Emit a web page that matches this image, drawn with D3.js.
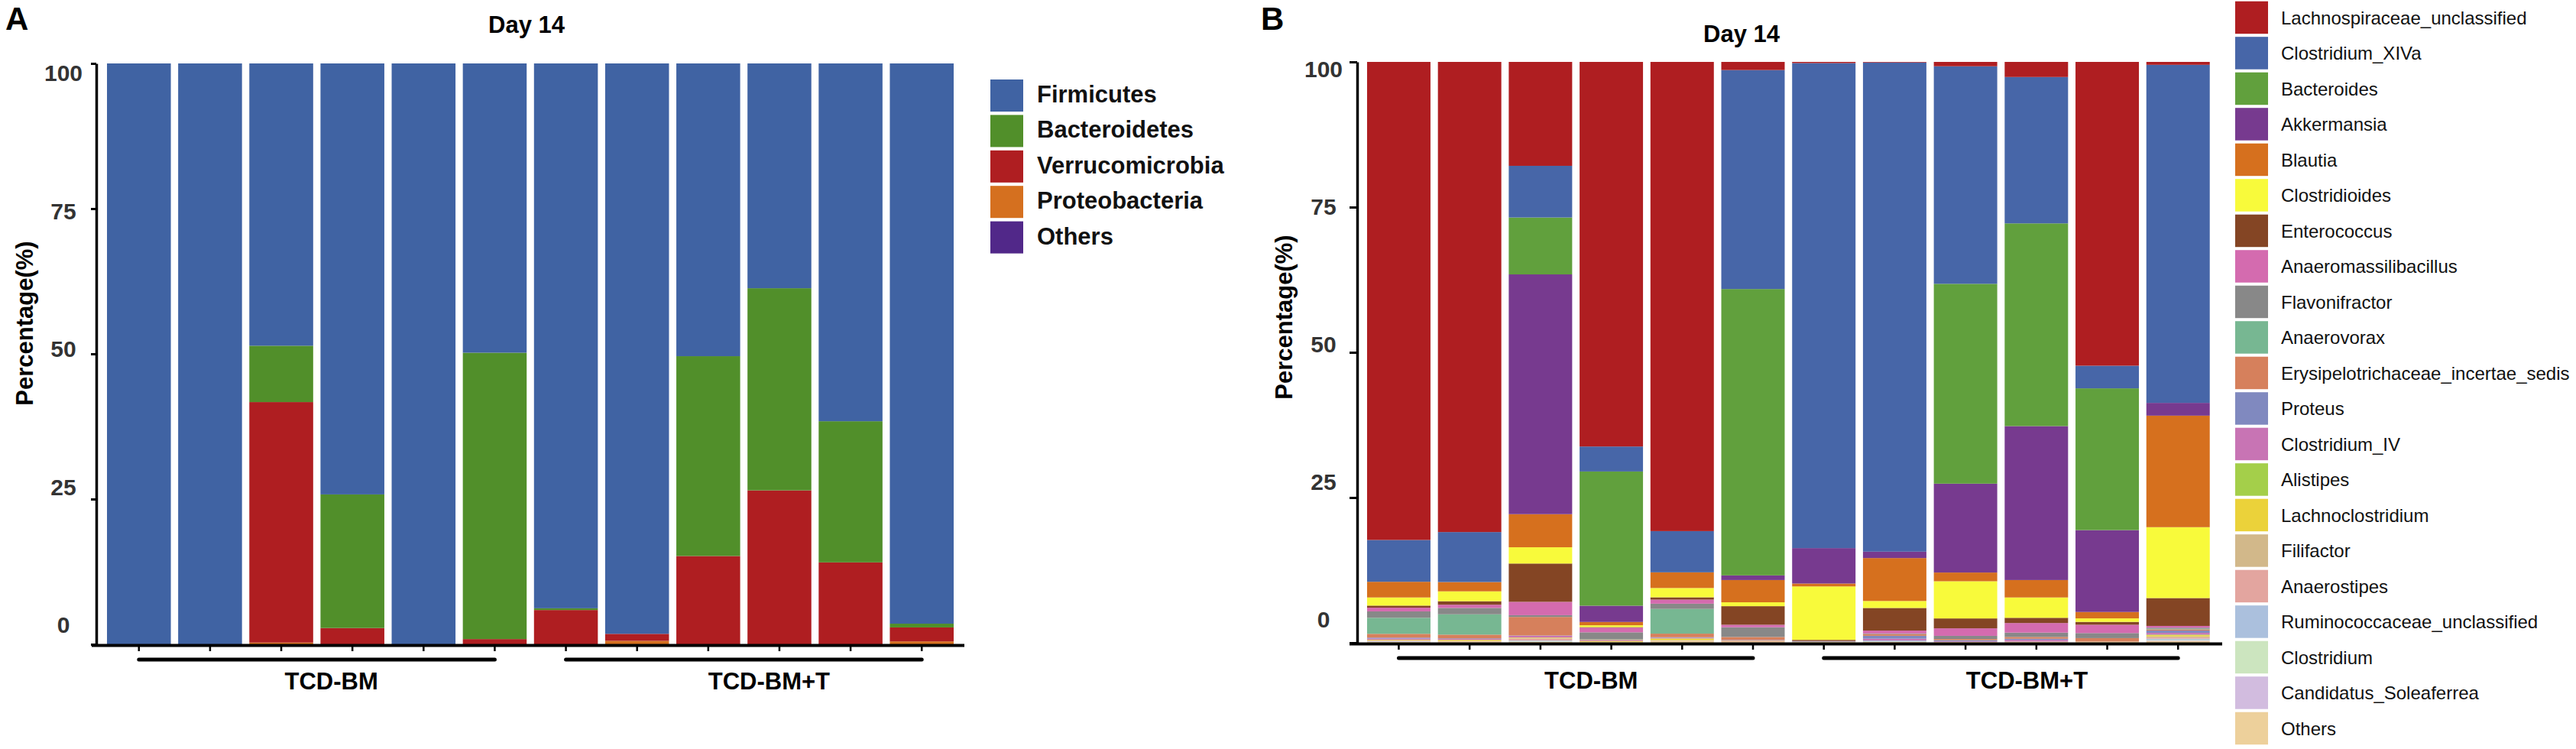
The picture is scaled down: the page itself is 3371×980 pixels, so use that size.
<!DOCTYPE html>
<html>
<head>
<meta charset="utf-8">
<script src="https://cdn.jsdelivr.net/npm/d3@7"></script>
<style>
    body { margin: 0; background: #fff; }
    text { font-family: "Liberation Sans", Arial, Helvetica, sans-serif; }
</style>
</head>
<body>
<div id="d3_chart"></div>
<script>
// samples (12 mice) and the two groups
const samples = ["M1", "M2", "M3", "M4", "M5", "M6", "M7", "M8", "M9", "M10", "M11", "M12"];
const groupNames = ["TCD-BM", "TCD-BM+T"];
const groupMembers = [["M1", "M2", "M3", "M4", "M5", "M6"], ["M7", "M8", "M9", "M10", "M11", "M12"]];
const yTicks = [0, 0.25, 0.5, 0.75, 1];
const tickLabels = ["0", "25", "50", "75", "100"];

// panel A: phylum level (%)
const phyla = ["Firmicutes", "Bacteroidetes", "Verrucomicrobia", "Proteobacteria", "Others"];
const phylaColors = ["#4063a3", "#518f2a", "#af1e21", "#d5701f", "#512889"];
const firmicutes      = [100, 100, 48.6, 74.2, 100, 49.8, 93.8, 98.2, 50.4, 38.7, 61.6, 96.45];
const bacteroidetes   = [0, 0, 9.7, 23.0, 0, 49.3, 0.3, 0, 34.4, 34.8, 24.3, 0.65];
const verrucomicrobia = [0, 0, 41.4, 2.8, 0, 0.9, 5.9, 1.2, 15.2, 26.5, 14.1, 2.4];
const proteobacteria  = [0, 0, 0.3, 0, 0, 0, 0, 0.6, 0, 0, 0, 0.5];
const othersPhylum    = [0, 0, 0, 0, 0, 0, 0, 0, 0, 0, 0, 0];

// panel B: genus level (%)
const genera = ["Lachnospiraceae_unclassified", "Clostridium_XIVa", "Bacteroides", "Akkermansia", "Blautia",
    "Clostridioides", "Enterococcus", "Anaeromassilibacillus", "Flavonifractor", "Anaerovorax",
    "Erysipelotrichaceae_incertae_sedis", "Proteus", "Clostridium_IV", "Alistipes", "Lachnoclostridium",
    "Filifactor", "Anaerostipes", "Ruminococcaceae_unclassified", "Clostridium", "Candidatus_Soleaferrea", "Others"];
const generaColors = ["#af1e21", "#4766a8", "#61a03d", "#773a8f", "#d6701e", "#f8fa3b", "#844524", "#d46baf",
    "#888888", "#77b792", "#d6805c", "#8089bf", "#c874b4", "#a4cf4a", "#ebd23a", "#d2b88a", "#e3a59f",
    "#abc0dd", "#cce5bf", "#d2bcdf", "#edd09b"];
const lachnospiraceae   = [82.3, 80.9, 17.9, 66.2, 80.8, 1.4, 0.2, 0.1, 0.75, 2.6, 52.3, 0.5];
const clostridiumXIVa   = [7.2, 8.6, 8.9, 4.3, 7.1, 37.7, 83.5, 84.3, 37.45, 25.2, 3.9, 58.2];
const bacteroides       = [0, 0, 9.8, 23.1, 0, 49.3, 0, 0, 34.4, 34.9, 24.4, 0];
const akkermansia       = [0, 0, 41.3, 2.8, 0, 0.8, 6.1, 1.1, 15.3, 26.5, 14.1, 2.2];
const blautia           = [2.7, 1.6, 5.7, 0.57, 2.7, 3.83, 0.5, 7.4, 1.5, 3.0, 1.1, 19.2];
const clostridioides    = [1.4, 1.7, 2.8, 0.31, 1.6, 0.67, 9.2, 1.2, 6.4, 3.5, 0.6, 12.2];
const enterococcus      = [0.35, 0.6, 6.6, 0.1, 0.4, 3.2, 0.2, 3.9, 1.7, 0.9, 0.5, 4.8];
const anaeromassili     = [0.65, 0.55, 2.3, 0.8, 0.7, 0.43, 0.05, 0.5, 1.3, 1.65, 1.43, 0.3];
const flavonifractor    = [1.1, 1.1, 0.3, 1.2, 0.9, 1.67, 0.05, 0.1, 0.54, 0.75, 0.87, 0.2];
const anaerovorax       = [2.76, 3.5, 0, 0.05, 4.26, 0, 0, 0, 0, 0, 0, 0.1];
const erysipelo         = [0.66, 0.65, 3.2, 0.1, 0.62, 0.5, 0, 0.3, 0.2, 0.3, 0.6, 0.2];
const proteus           = [0.15, 0.1, 0.05, 0.05, 0.1, 0.05, 0.05, 0.5, 0.2, 0.2, 0, 0.4];
const clostridiumIV     = [0.2, 0.15, 0.3, 0.1, 0.1, 0.1, 0, 0.3, 0.1, 0.3, 0, 0.3];
const alistipes         = [0, 0, 0, 0, 0, 0, 0, 0, 0, 0, 0, 0.1];
const lachnoclostridium = [0.1, 0.2, 0.1, 0.15, 0.3, 0.1, 0, 0, 0, 0, 0, 0.2];
const filifactor        = [0.05, 0.05, 0.1, 0.05, 0.1, 0, 0, 0, 0, 0, 0, 0.2];
const anaerostipes      = [0.1, 0.05, 0.3, 0, 0.05, 0.1, 0, 0, 0, 0, 0, 0.2];
const ruminococcaceae   = [0.05, 0, 0.1, 0, 0, 0, 0, 0.2, 0, 0, 0, 0.2];
const clostridium       = [0.05, 0, 0.1, 0, 0, 0, 0, 0, 0, 0, 0, 0.1];
const candidatus        = [0.05, 0, 0.05, 0, 0, 0, 0, 0, 0, 0, 0, 0.1];
const othersGenus       = [0.13, 0.2, 0.15, 0.1, 0.3, 0.15, 0.15, 0.2, 0.15, 0.2, 0.2, 0.3];

const phylaValues = [firmicutes, bacteroidetes, verrucomicrobia, proteobacteria, othersPhylum];
const generaValues = [lachnospiraceae, clostridiumXIVa, bacteroides, akkermansia, blautia, clostridioides,
    enterococcus, anaeromassili, flavonifractor, anaerovorax, erysipelo, proteus, clostridiumIV, alistipes,
    lachnoclostridium, filifactor, anaerostipes, ruminococcaceae, clostridium, candidatus, othersGenus];

var svg = d3.select("#d3_chart")
    .append("svg")
    .attr("width", 3371)
    .attr("height", 980);

function drawPanel(opt) {
    // build table rows from the arrays
    var table = samples.map(function (s, i) {
        var row = { sample: s };
        opt.keys.forEach(function (k, j) { row[k] = opt.values[j][i]; });
        return row;
    });
    var color = d3.scaleOrdinal().domain(opt.keys).range(opt.colors);
    // legend order is top of the stack first, so stack reversed
    var series = d3.stack()
        .keys(opt.keys.slice().reverse())
        .offset(d3.stackOffsetExpand)(table);

    var x = d3.scaleBand()
        .domain(samples)
        .range(opt.xRange)
        .paddingInner(opt.padIn)
        .paddingOuter(0.1);
    var y = d3.scaleLinear().domain([0, 1]).range([opt.base, opt.top]);
    var yLab = d3.scaleLinear().domain([0, 1]).range(opt.labelRange);

    // bars
    svg.append("g")
        .selectAll("g")
        .data(series)
        .enter()
        .append("g")
        .attr("fill", function (d) { return color(d.key); })
        .selectAll("rect")
        .data(function (d) { return d; })
        .enter()
        .append("rect")
        .attr("x", function (d) { return x(d.data.sample); })
        .attr("y", function (d) { return y(d[1]); })
        .attr("width", x.bandwidth())
        .attr("height", function (d) { return Math.max(0, y(d[0]) - y(d[1])); });

    // y axis line + ticks
    var yAxis = svg.append("g")
        .attr("transform", "translate(" + opt.axisX + ",0)")
        .call(d3.axisLeft(y).tickValues(yTicks).tickSize(opt.tickLen).tickSizeOuter(0).tickFormat(""));
    yAxis.select(".domain").attr("stroke-width", 3.5);
    yAxis.selectAll(".tick line").attr("stroke-width", 3);

    // y tick labels (centred, grey)
    var yLabels = svg.append("g")
        .attr("transform", "translate(" + opt.labelX + ",0)")
        .attr("font-family", null)
        .call(d3.axisLeft(yLab).tickValues(yTicks).tickSize(0).tickFormat(function (d, i) { return tickLabels[i]; }));
    yLabels.select(".domain").remove();
    yLabels.selectAll("text")
        .attr("x", 0)
        .attr("dy", "0.36em")
        .attr("text-anchor", "middle")
        .style("font-size", "30px")
        .style("font-weight", "bold")
        .attr("fill", "#333");

    // baseline
    svg.append("line")
        .attr("x1", opt.baseX[0])
        .attr("x2", opt.baseX[1])
        .attr("y1", opt.base + 1.5)
        .attr("y2", opt.base + 1.5)
        .attr("stroke", "#000")
        .attr("stroke-width", 4);

    // small ticks under each bar
    var xAxis = svg.append("g")
        .attr("transform", "translate(0," + (opt.base + 3) + ")")
        .call(d3.axisBottom(x).tickSize(6).tickSizeOuter(0).tickFormat(""));
    xAxis.select(".domain").remove();
    xAxis.selectAll(".tick line").attr("stroke-width", 2.5);

    // group brackets
    groupNames.forEach(function (g, gi) {
        var members = groupMembers[gi];
        var x1 = x(members[0]) + x.bandwidth() / 2;
        var x2 = x(members[members.length - 1]) + x.bandwidth() / 2;
        svg.append("line")
            .attr("x1", x1).attr("x2", x2)
            .attr("y1", opt.groupY).attr("y2", opt.groupY)
            .attr("stroke", "#000")
            .attr("stroke-width", 5)
            .attr("stroke-linecap", "round");
        svg.append("text")
            .attr("x", (x1 + x2) / 2 + opt.groupDx[gi])
            .attr("y", opt.groupLabelY)
            .attr("text-anchor", "middle")
            .style("font-size", "31px")
            .style("font-weight", "bold")
            .text(g);
    });

    // y title
    svg.append("text")
        .attr("transform", "translate(" + opt.yTitle[0] + "," + opt.yTitle[1] + ")rotate(-90)")
        .attr("text-anchor", "middle")
        .style("font-size", "31px")
        .style("font-weight", "bold")
        .text("Percentage(%)");

    // title
    svg.append("text")
        .attr("x", opt.title[0])
        .attr("y", opt.title[1])
        .attr("text-anchor", "middle")
        .style("font-size", "31px")
        .style("font-weight", "bold")
        .text("Day 14");

    // panel letter
    svg.append("text")
        .attr("x", opt.letter[0])
        .attr("y", opt.letter[1])
        .style("font-size", "42px")
        .style("font-weight", "bold")
        .text(opt.letterText);

    // legend
    var leg = svg.append("g")
        .selectAll("g")
        .data(opt.keys)
        .enter()
        .append("g")
        .attr("transform", function (d, i) { return "translate(" + opt.leg.x + "," + (opt.leg.y + i * opt.leg.step) + ")"; });
    leg.append("rect")
        .attr("width", opt.leg.w)
        .attr("height", opt.leg.h)
        .attr("fill", function (d) { return color(d); });
    leg.append("text")
        .attr("x", opt.leg.textDx)
        .attr("y", opt.leg.h / 2 + opt.leg.textDy)
        .style("font-size", opt.leg.fontSize)
        .style("font-weight", opt.leg.weight)
        .attr("fill", "#111")
        .text(function (d) { return d; });
}

drawPanel({
    keys: phyla, colors: phylaColors, values: phylaValues,
    xRange: [130.7, 1257.3], padIn: 0.103,
    base: 843, top: 83, labelRange: [817, 95],
    axisX: 126, tickLen: 7, labelX: 83,
    baseX: [120, 1262],
    groupY: 863, groupLabelY: 902, groupDx: [19, 33],
    yTitle: [43, 423], title: [689, 43], letter: [7, 39], letterText: "A",
    leg: { x: 1296, y: 104, step: 46.4, w: 43, h: 42, textDx: 61, textDy: 9, fontSize: "31px", weight: "bold" }
});

drawPanel({
    keys: genera, colors: generaColors, values: generaValues,
    xRange: [1779.7, 2901], padIn: 0.105,
    base: 841, top: 81, labelRange: [810, 90],
    axisX: 1776, tickLen: 10, labelX: 1732,
    baseX: [1766, 2908],
    groupY: 861, groupLabelY: 901, groupDx: [20, 34],
    yTitle: [1691, 415], title: [2279, 55], letter: [1650, 39], letterText: "B",
    leg: { x: 2925, y: 1.7, step: 46.5, w: 43, h: 42.5, textDx: 60, textDy: 9, fontSize: "24px", weight: "normal" }
});
</script>
</body>
</html>
